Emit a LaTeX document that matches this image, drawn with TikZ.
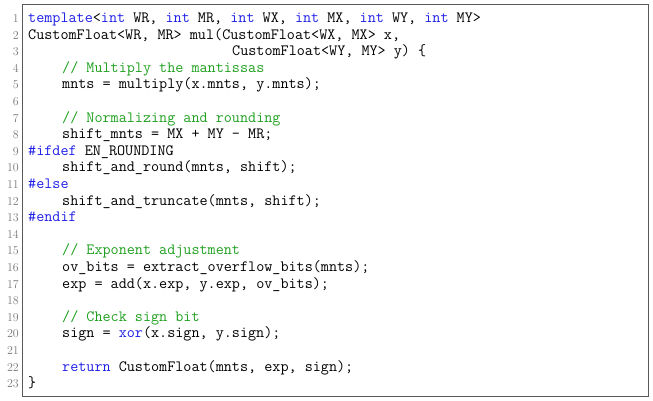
\documentclass[tikz,border=0pt]{standalone}
\usepackage{xcolor}
\definecolor{kw}{RGB}{30,30,230}
\definecolor{cm}{RGB}{30,160,30}
\definecolor{ln}{RGB}{120,120,120}
\newcommand{\K}[1]{\textcolor{kw}{#1}}
\newcommand{\C}[1]{\textcolor{cm}{#1}}
\begin{document}
\begin{tikzpicture}[x=1pt,y=1pt,
  code/.style={anchor=base west,inner sep=0pt,font=\fontsize{15.7}{17}\ttfamily},
  num/.style={anchor=base east,inner sep=0pt,text=ln,font=\fontsize{12}{14}\selectfont}]
\useasboundingbox (0,0) rectangle (653,400);
\draw[gray!70!black,line width=0.8pt] (22,4) rectangle (648,396);
\foreach \i in {1,...,23}{\node[num] (n\i) at (19,{400-22.5-(\i-1)*16.6}) {\i};}
\def\L#1#2#3{\node[code] (l#1) at ({28+#2*8.5},{400-22.5-(#1-1)*16.6}) {#3};}
\L{1}{0}{\K{template}<\K{int} WR, \K{int} MR, \K{int} WX, \K{int} MX, \K{int} WY, \K{int} MY>}
\L{2}{0}{CustomFloat<WR, MR> mul(CustomFloat<WX, MX> x,}
\L{3}{24}{CustomFloat<WY, MY> y) \{}
\L{4}{4}{\C{// Multiply the mantissas}}
\L{5}{4}{mnts = multiply(x.mnts, y.mnts);}
\L{7}{4}{\C{// Normalizing and rounding}}
\L{8}{4}{shift\_mnts = MX + MY - MR;}
\L{9}{0}{\K{\#ifdef} EN\_ROUNDING}
\L{10}{4}{shift\_and\_round(mnts, shift);}
\L{11}{0}{\K{\#else}}
\L{12}{4}{shift\_and\_truncate(mnts, shift);}
\L{13}{0}{\K{\#endif}}
\L{15}{4}{\C{// Exponent adjustment}}
\L{16}{4}{ov\_bits = extract\_overflow\_bits(mnts);}
\L{17}{4}{exp = add(x.exp, y.exp, ov\_bits);}
\L{19}{4}{\C{// Check sign bit}}
\L{20}{4}{sign = \K{xor}(x.sign, y.sign);}
\L{22}{4}{\K{return} CustomFloat(mnts, exp, sign);}
\L{23}{0}{\}}
\end{tikzpicture}
\end{document}
